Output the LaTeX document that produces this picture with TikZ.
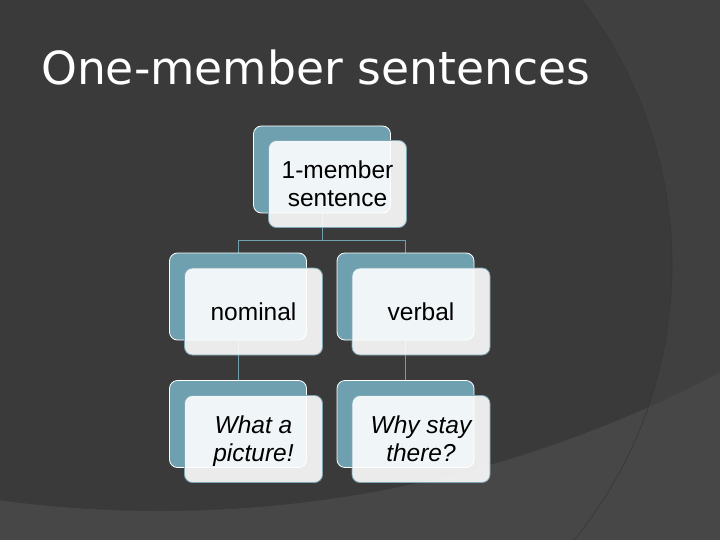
\documentclass[tikz,border=0pt]{standalone}
\usepackage{fontspec}
\setmainfont{Liberation Sans}
\newfontfamily\titlefont{DejaVu Sans}
\newcommand\mytopstrut{\rule{0pt}{26pt}}
\pgfdeclarelayer{bglayer}
\pgfdeclarelayer{connlayer}
\pgfsetlayers{bglayer,connlayer,main}
\definecolor{basebg}{HTML}{3A3A3A}
\definecolor{outerbg}{HTML}{404040}
\definecolor{bandbg}{HTML}{474747}
\definecolor{arcline}{HTML}{373737}
\definecolor{teal}{HTML}{6FA0B0}
\definecolor{frontline}{HTML}{7EA7B5}
\tikzset{
  backbox/.style={rectangle, rounded corners=8pt, fill=teal, draw=white, line width=0.8pt,
    minimum width=137pt, minimum height=87pt, inner sep=0pt},
  frontbox/.style={rectangle, rounded corners=8pt, fill=white, fill opacity=0.9, text opacity=1,
    draw=frontline, line width=0.8pt, minimum width=138pt, minimum height=87pt, inner sep=0pt,
    align=center, font=\fontsize{24.5}{28}\selectfont, text=black},
  leaftext/.style={font=\fontsize{24.5}{28}\selectfont\itshape},
  conn/.style={draw=teal, line width=1pt},
}
\begin{document}
\begin{tikzpicture}[x=1pt,y=-1pt]
\useasboundingbox (0,0) rectangle (720,540);
\begin{pgfonlayer}{bglayer}
  \fill[basebg] (0,0) rectangle (720,540);
  \fill[outerbg, even odd rule] (0,0) rectangle (720,540) (237,265) circle[radius=435];
  \begin{scope}
    \clip (0,0) rectangle (720,540);
    \fill[bandbg, even odd rule] (-50,-1000) rectangle (770,600) (160,-686.6) circle[radius=1197.6];
    \draw[arcline, line width=0.6pt] (237,265) circle[radius=435];
  \end{scope}
\end{pgfonlayer}

\node[anchor=base west, text=white, font=\titlefont\fontsize{45.6}{50}\selectfont, inner sep=0pt] (title) at (41,85) {One-member sentences};

% back boxes
\node[backbox] (tb) at (322,169.5) {};
\node[backbox] (nb) at (238,296.5) {};
\node[backbox] (vb) at (405.5,296.5) {};
\node[backbox] (lb1) at (238,424) {};
\node[backbox] (lb2) at (405.5,424) {};

% front boxes
\node[frontbox] (tf) at (337.5,184) {\mytopstrut 1-member\strut\\sentence\strut};
\node[frontbox] (nf) at (253.5,311.5) {\mytopstrut nominal\strut};
\node[frontbox] (vf) at (421,311.5) {\mytopstrut verbal\strut};
\node[frontbox, leaftext] (lf1) at (253.5,439) {\mytopstrut What a\strut\\picture!\strut};
\node[frontbox, leaftext] (lf2) at (421,439) {\mytopstrut Why stay\strut\\there?\strut};

\begin{pgfonlayer}{connlayer}
  \draw[conn] (tb.south) -- ++(0,27) -| (nb.north);
  \draw[conn] (tb.south) -- ++(0,27) -| (vb.north);
  \draw[conn] (nb.south) -- (lb1.north);
  \draw[conn] (vb.south) -- (lb2.north);
\end{pgfonlayer}
\end{tikzpicture}
\end{document}
